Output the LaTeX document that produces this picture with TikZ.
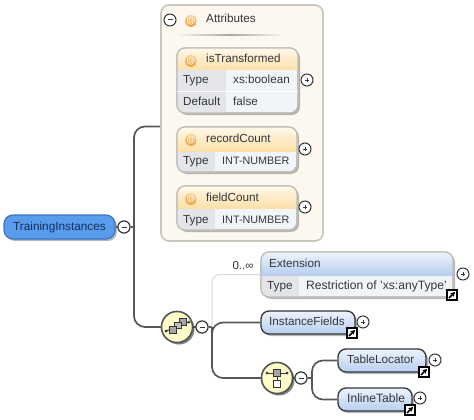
\documentclass[tikz,border=0pt]{standalone}
\usepackage{fontspec}
\setmainfont{Liberation Sans}
\usetikzlibrary{shadows,arrows.meta,calc}
\definecolor{ink}{HTML}{33363A}
\definecolor{conn}{HTML}{55575A}
\definecolor{rootfill}{HTML}{5A9CEC}
\definecolor{rootline}{HTML}{3B76C4}
\definecolor{roottext}{HTML}{14305C}
\definecolor{panelfill}{HTML}{FDF8EF}
\definecolor{panelline}{HTML}{C9C6BC}
\definecolor{boxline}{HTML}{BDBDB8}
\definecolor{keycell}{HTML}{E3E5E9}
\definecolor{valcell}{HTML}{F1F4F9}
\definecolor{hdrtop}{HTML}{FFF8EA}
\definecolor{hdrbot}{HTML}{FDE0A8}
\definecolor{bluetop}{HTML}{EEF3FC}
\definecolor{bluebot}{HTML}{B7CEF0}
\definecolor{attop}{HTML}{F9CE86}
\definecolor{atbot}{HTML}{EE9E3C}
\tikzset{
 x=1pt,y=-1pt,
 softshadow/.style={drop shadow={shadow xshift=2pt,shadow yshift=-2pt,fill=black,opacity=.28}},
 lbl/.style={inner sep=0pt,text=ink,font=\fontsize{11.7}{13}\selectfont,anchor=west,text height=8.5pt,text depth=2.5pt},
 numlbl/.style={lbl,font=\fontsize{10.8}{13}\selectfont},
 widelbl/.style={lbl,font=\fontsize{12.1}{13}\selectfont},
 conline/.style={draw=conn,line width=1.7pt,rounded corners=11pt},
 lightline/.style={draw=black!14,line width=1pt,rounded corners=8pt},
 circ/.style={circle,draw=ink,fill=white,line width=1pt,minimum size=12pt,inner sep=0pt},
 minusc/.style={circ,path picture={\draw[ink,line width=1pt] ($(path picture bounding box.center)+(-2.5,0)$)--++(5,0);}},
 plusc/.style={circ,path picture={\draw[ink,line width=.9pt] ($(path picture bounding box.center)+(-2,0)$)--++(4,0);\draw[ink,line width=.9pt] ($(path picture bounding box.center)+(0,-2)$)--++(0,4);}},
 atic/.style={circle,minimum size=11.5pt,inner sep=0pt,top color=attop,bottom color=atbot,text=white,font=\bfseries\fontsize{9}{9}\selectfont},
 linkic/.style={rectangle,draw=black,fill=white,line width=1.2pt,minimum size=10pt,inner sep=0pt,
   path picture={\draw[black,line width=1.5pt,-{Stealth[length=4.5pt,width=5pt]}] ($(path picture bounding box.center)+(-3,3)$)--++(6,-6);}},
 compo/.style={circle,draw=conn,line width=1.5pt,fill=yellow!22,minimum size=31pt,inner sep=0pt,softshadow},
 rootbox/.style={rectangle,rounded corners=9pt,draw=rootline,line width=1.2pt,fill=rootfill,inner sep=0pt,softshadow},
 refbox/.style={rectangle,rounded corners=8pt,draw=ink,line width=1.3pt,top color=bluetop,bottom color=bluebot,inner sep=0pt,softshadow},
 tabbox/.style={rectangle,rounded corners=8pt,draw=boxline,line width=1.2pt,fill=valcell,inner sep=0pt,softshadow},
 panel/.style={rectangle,rounded corners=8pt,draw=panelline,line width=1.6pt,fill=panelfill,inner sep=0pt},
 sq/.style={rectangle,draw=ink,line width=.7pt,inner sep=0pt,minimum size=6.5pt},
 endpt/.style={circle,fill=ink,inner sep=0pt,minimum size=3pt},
}
% \tbl{name}{x1}{y1}{x2}{y2}{header bottom}{column x}{top}{bot}
\newcommand{\tbl}[9]{%
 \node[tabbox,minimum width=#4pt-#2pt,minimum height=#5pt-#3pt] (#1) at ({(#2+#4)/2},{(#3+#5)/2}) {};
 \begin{scope}
  \clip[rounded corners=8pt] (#2,#3) rectangle (#4,#5);
  \fill[keycell] (#2,#6) rectangle (#7,#5);
  \shade[top color=#8,bottom color=#9] (#2,#3) rectangle (#4,#6);
 \end{scope}
 \draw[boxline,line width=1.2pt,rounded corners=8pt] (#2,#3) rectangle (#4,#5);
}
\begin{document}
\begin{tikzpicture}
\useasboundingbox (0,0) rectangle (474,420);
\fill[white] (0,0) rectangle (474,420);

% nodes
\node[rootbox,minimum width=111pt,minimum height=24pt,
  font=\fontsize{11.8}{13}\selectfont,text=roottext] (root) at (59.5,227) {TrainingInstances};
\node[minusc] (m1) at (124,227) {};
\coordinate (j1) at (134,227);

\node[panel,minimum width=162pt,minimum height=236pt] (attrs) at (242,123) {};
\node[minusc] (m2) at (170,20) {};
\node[atic] (a0) at (191,21) {@};
\node[lbl] (attrlbl) at (206,20) {Attributes};
\shade[left color=panelfill,right color=panelfill,middle color=black!35] (175,34.5) rectangle (285,35.5);

% isTransformed
\tbl{t1}{177}{48}{298}{113}{70}{226}{hdrtop}{hdrbot}
\draw[white,line width=.8pt] (177,91)--(298,91);
\node[atic] (a1) at (191,61) {@};
\node[lbl] (t1n) at (206,60) {isTransformed};
\node[lbl] (t1k) at (183,81) {Type};
\node[lbl] (t1v) at (233,81) {xs:boolean};
\node[lbl] (t1k2) at (183,102) {Default};
\node[lbl] (t1v2) at (233,102) {false};
\node[plusc] (p1) at (307,80) {};

% recordCount
\tbl{t2}{177}{127}{297}{172}{151}{215}{hdrtop}{hdrbot}
\node[atic] (a2) at (191,140) {@};
\node[lbl] (t2n) at (206,139) {recordCount};
\node[lbl] (t2k) at (183,161) {Type};
\node[numlbl] (t2v) at (222,161) {INT-NUMBER};
\node[plusc] (p2) at (305,149) {};

% fieldCount
\tbl{t3}{177}{186}{297}{230}{208}{215}{hdrtop}{hdrbot}
\node[atic] (a3) at (191,199) {@};
\node[lbl] (t3n) at (206,198) {fieldCount};
\node[lbl] (t3k) at (183,220) {Type};
\node[numlbl] (t3v) at (222,220) {INT-NUMBER};
\node[plusc] (p3) at (305,207) {};

% compositor 1
\node[compo] (seq) at (177,327) {};
\node[minusc] (m3) at (202,327) {};
\coordinate (j2) at (212,327);

% Extension
\tbl{ext}{261}{252}{453}{297}{275}{299}{bluetop}{bluebot}
\node[lbl] (extn) at (269,264) {Extension};
\node[lbl] (extk) at (267,286) {Type};
\node[widelbl] (extv) at (306,286) {Restriction of 'xs:anyType'};
\node[plusc] (p4) at (463,274) {};
\node[linkic] (l4) at (452,295) {};
\node[inner sep=0pt,text=ink,font=\fontsize{11.5}{13}\selectfont] (card) at (243,266) {0..∞};

% InstanceFields
\node[refbox,minimum width=94pt,minimum height=23pt] (inst) at (308,322.5) {};
\node[lbl] (instn) at (269,322) {InstanceFields};
\node[plusc] (p5) at (363,322) {};
\node[linkic] (l5) at (352,333) {};

% compositor 2
\node[compo] (cho) at (277,378) {};
\node[minusc] (m4) at (301,378) {};
\coordinate (j3) at (312,378);

% TableLocator
\node[refbox,minimum width=88pt,minimum height=23pt] (tl) at (382,360.5) {};
\node[lbl] (tln) at (347,360) {TableLocator};
\node[plusc] (p6) at (435,360) {};
\node[linkic] (l6) at (424,372) {};

% InlineTable
\node[refbox,minimum width=74pt,minimum height=23pt] (il) at (375,399.5) {};
\node[widelbl] (iln) at (347,399) {InlineTable};
\node[plusc] (p7) at (420,398) {};
\node[linkic] (l7) at (410,410) {};

% connectors
\draw[conline] (root.east) -- (m1.west);
\draw[conline] (m1.east) -- (j1);
\draw[conline] (j1) |- ([yshift=-3.5pt]attrs.west);
\draw[conline] (j1) |- (seq.west);
\draw[conline] (seq.east) -- (m3.west);
\draw[conline] (m3.east) -- (j2);
\draw[lightline] (j2) |- (ext.west);
\draw[conline] (j2) |- (inst.west);
\draw[conline] (j2) |- (cho.west);
\draw[conline] (cho.east) -- (m4.west);
\draw[conline] (m4.east) -- (j3);
\draw[conline] (j3) |- (tl.west);
\draw[conline] (j3) |- (il.west);
\node[compo] at (seq) {};
\node[compo] at (cho) {};
\node[minusc] at (m3) {};
\node[minusc] at (m1) {};
\node[minusc] at (m4) {};

% sequence glyph
\draw[ink,line width=.9pt] (166,331) -- (189,322);
\node[endpt] at (166,331) {};
\node[endpt] at (189,322) {};
\node[sq,fill=black!35] at (183,322) {};
\node[sq,fill=black!25] at (178,325.5) {};
\node[sq,fill=black!35] at (173,330) {};

% choice glyph
\draw[ink,line width=.9pt] (267,373) -- (287,373);
\node[endpt] at (267,373) {};
\node[endpt] at (287,373) {};
\draw[ink,line width=.6pt] (277,373) -- (277,384);
\node[sq,fill=black!35] at (277,373) {};
\node[sq,fill=white] at (277,384) {};
\end{tikzpicture}
\end{document}
